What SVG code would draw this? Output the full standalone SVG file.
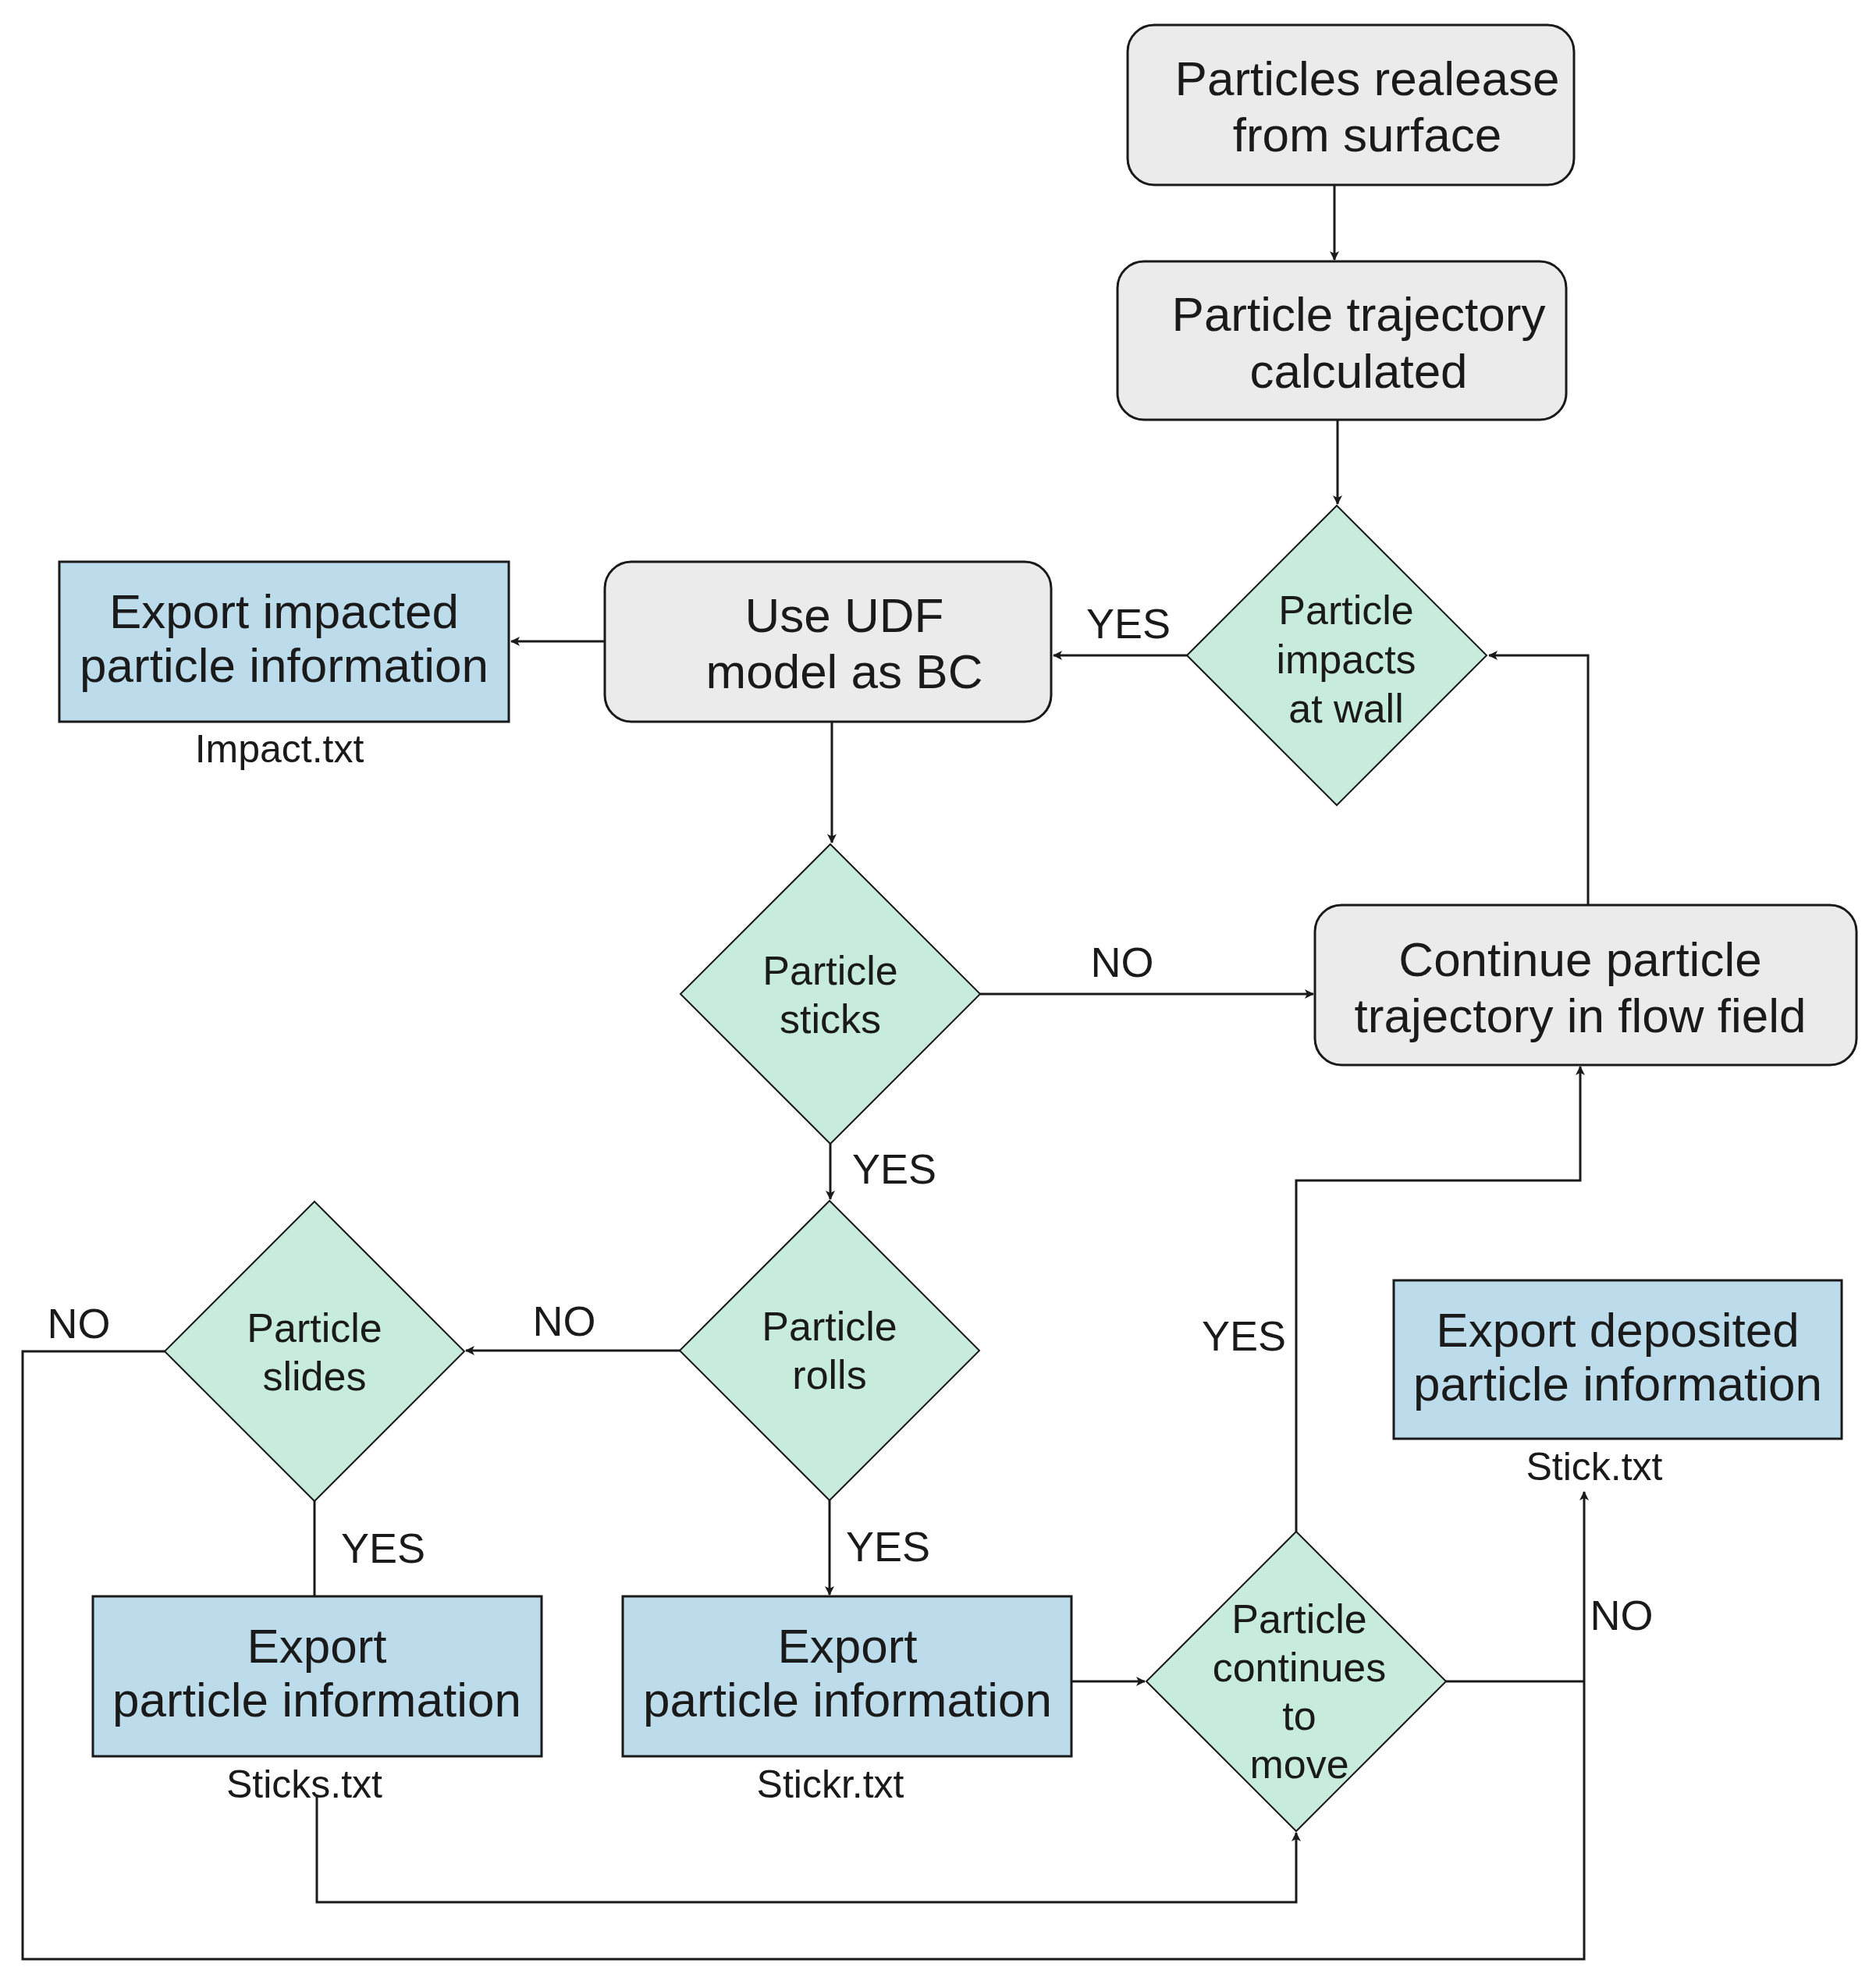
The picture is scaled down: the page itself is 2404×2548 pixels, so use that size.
<svg xmlns="http://www.w3.org/2000/svg" width="2404" height="2548" viewBox="0 0 2404 2548">
<style>
text{font-family:"Liberation Sans",Arial,sans-serif;fill:#1a1a1a;text-anchor:middle}
.g{fill:#ebebeb;stroke:#1a1a1a;stroke-width:3}
.b{fill:#bcdcec;stroke:#1a1a1a;stroke-width:3}
.d{fill:#c8ecdc;stroke:#1a1a1a;stroke-width:2}
.t{font-size:62px}.dt{font-size:52px}.l{font-size:54px}.f{font-size:50px}
.c path{fill:none;stroke:#1a1a1a;stroke-width:3}
</style>
<defs><marker id="a" markerWidth="12" markerHeight="12" refX="11" refY="6" orient="auto" markerUnits="userSpaceOnUse" viewBox="0 0 12 12"><path d="M0,0L12,6L0,12L3,6z" fill="#1a1a1a"/></marker></defs>
<g class="c">
<path d="M1710,237V333" marker-end="url(#a)"/>
<path d="M1714,538V646" marker-end="url(#a)"/>
<path d="M1521,840H1350" marker-end="url(#a)"/>
<path d="M775,822H655" marker-end="url(#a)"/>
<path d="M1066,925V1080" marker-end="url(#a)"/>
<path d="M1256,1274H1683" marker-end="url(#a)"/>
<path d="M1064,1466V1537" marker-end="url(#a)"/>
<path d="M871,1731H597" marker-end="url(#a)"/>
<path d="M403,1924V2046"/>
<path d="M211,1732H29V2511H2030V1912" marker-end="url(#a)"/>
<path d="M1063,1923V2044" marker-end="url(#a)"/>
<path d="M1373,2155H1467" marker-end="url(#a)"/>
<path d="M406,2300V2438H1661V2349" marker-end="url(#a)"/>
<path d="M1661,1963V1513H2025V1367" marker-end="url(#a)"/>
<path d="M1853,2155H2030"/>
<path d="M2035,1160V840H1908" marker-end="url(#a)"/>
</g>
<g id="n1"><rect class="g" x="1445" y="32" width="572" height="205" rx="34"/><text class="t" x="1752" y="122">Particles realease</text><text class="t" x="1752" y="194">from surface</text></g>
<g id="n2"><rect class="g" x="1432" y="335" width="575" height="203" rx="34"/><text class="t" x="1741" y="424">Particle trajectory</text><text class="t" x="1741" y="497">calculated</text></g>
<g id="n3"><path class="d" d="M1713,648L1905,840L1713,1032L1521,840z"/><text class="dt" x="1725" y="800">Particle</text><text class="dt" x="1725" y="863">impacts</text><text class="dt" x="1725" y="926">at wall</text></g>
<g id="n4"><rect class="g" x="775" y="720" width="572" height="205" rx="34"/><text class="t" x="1082" y="810">Use UDF</text><text class="t" x="1082" y="882">model as BC</text></g>
<g id="n5"><rect class="b" x="76" y="720" width="576" height="205"/><text class="t" x="364" y="805">Export impacted</text><text class="t" x="364" y="874">particle information</text><text class="f" x="358" y="977">Impact.txt</text></g>
<g id="n6"><path class="d" d="M1064,1082L1256,1274L1064,1466L872,1274z"/><text class="dt" x="1064" y="1262">Particle</text><text class="dt" x="1064" y="1324">sticks</text></g>
<g id="n7"><rect class="g" x="1685" y="1160" width="694" height="205" rx="34"/><text class="t" x="2025" y="1251">Continue particle</text><text class="t" x="2025" y="1323">trajectory in flow field</text></g>
<g id="n8"><path class="d" d="M1063,1539L1255,1731L1063,1923L871,1731z"/><text class="dt" x="1063" y="1718">Particle</text><text class="dt" x="1063" y="1780">rolls</text></g>
<g id="n9"><path class="d" d="M403,1540L595,1732L403,1924L211,1732z"/><text class="dt" x="403" y="1720">Particle</text><text class="dt" x="403" y="1782">slides</text></g>
<g id="n10"><rect class="b" x="119" y="2046" width="575" height="205"/><text class="t" x="406" y="2131">Export</text><text class="t" x="406" y="2200">particle information</text><text class="f" x="390" y="2304">Sticks.txt</text></g>
<g id="n11"><rect class="b" x="798" y="2046" width="575" height="205"/><text class="t" x="1086" y="2131">Export</text><text class="t" x="1086" y="2200">particle information</text><text class="f" x="1064" y="2304">Stickr.txt</text></g>
<g id="n12"><path class="d" d="M1661,1963L1853,2155L1661,2347L1469,2155z"/><text class="dt" x="1665" y="2093">Particle</text><text class="dt" x="1665" y="2155">continues</text><text class="dt" x="1665" y="2217">to</text><text class="dt" x="1665" y="2279">move</text></g>
<g id="n13"><rect class="b" x="1786" y="1641" width="574" height="203"/><text class="t" x="2073" y="1726">Export deposited</text><text class="t" x="2073" y="1795">particle information</text><text class="f" x="2043" y="1897">Stick.txt</text></g>
<g id="labels" class="l">
<text class="l" x="1446" y="818">YES</text>
<text class="l" x="1438" y="1252">NO</text>
<text class="l" x="1146" y="1517">YES</text>
<text class="l" x="723" y="1712">NO</text>
<text class="l" x="491" y="2003">YES</text>
<text class="l" x="101" y="1715">NO</text>
<text class="l" x="1138" y="2001">YES</text>
<text class="l" x="1594" y="1731">YES</text>
<text class="l" x="2078" y="2089">NO</text>
</g>
</svg>
